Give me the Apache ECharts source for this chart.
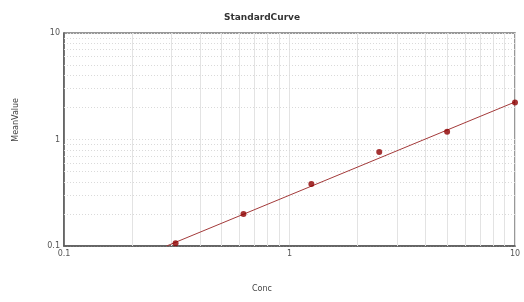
<!DOCTYPE html>
<html><head><meta charset="utf-8">
<script src="https://cdn.jsdelivr.net/npm/echarts@6/dist/echarts.min.js"></script>
<style>html,body{margin:0;padding:0;background:#fff}#c{width:524px;height:302px}</style>
</head><body><div id="c"></div>
<script>
var conc = [0.3125, 0.625, 1.25, 2.5, 5, 10];
var meanValue = [0.106, 0.20, 0.382, 0.764, 1.18, 2.22];
var fitLine = [[0.285, 0.1], [10, 2.25]];
var minorX = [0.2,0.3,0.4,0.5,0.6,0.7,0.8,0.9,2,3,4,5,6,7,8,9];
var minorY = [0.2,0.3,0.4,0.5,0.6,0.7,0.8,0.9,2,3,4,5,6,7,8,9];

var chart = echarts.init(document.getElementById('c'), null, {renderer:'canvas'});
var font = 'DejaVu Sans';
var vStyle = {color:'#e3e3e3', type:'solid', width:1};
var hStyle = {color:'#dadada', type:[1,2], width:1};
var mlV = minorX.map(function(v){return {xAxis:v};});
var mlH = minorY.map(function(v){return {yAxis:v};});
chart.setOption({
  animation:false,
  title:[
    {text:'StandardCurve', left:'center', top:8, textStyle:{fontFamily:font, fontSize:9, fontWeight:'bold', color:'#333'}},
    {text:'Conc', left:'center', top:280, textStyle:{fontFamily:font, fontSize:8, fontWeight:'normal', color:'#444'}}
  ],
  graphic:[{type:'text', left:12, top:98, rotation:Math.PI/2, style:{text:'MeanValue', font:'8px "DejaVu Sans"', fill:'#444'}}],
  grid:{left:64, right:9, top:33, bottom:56, show:true, borderColor:'#777', borderWidth:1.5},
  xAxis:{type:'log', logBase:10, min:0.1, max:10,
    axisLine:{lineStyle:{color:'#555', width:1.5}}, axisTick:{show:false},
    axisLabel:{fontFamily:font, fontSize:8, color:'#555', margin:4, formatter:function(v){return String(+v.toPrecision(3));}},
    splitLine:{show:true, lineStyle:vStyle}},
  yAxis:{type:'log', logBase:10, min:0.1, max:10,
    axisLine:{lineStyle:{color:'#555', width:1.5}}, axisTick:{show:false},
    axisLabel:{fontFamily:font, fontSize:8, color:'#555', margin:4, formatter:function(v){return String(+v.toPrecision(3));}},
    splitLine:{show:true, lineStyle:hStyle}},
  series:[
    {type:'line', data:fitLine, symbol:'none', lineStyle:{color:'#a33a3a', width:1}, z:3,
     markLine:{silent:true, symbol:'none', label:{show:false}, lineStyle:vStyle, data:mlV, z:1}},
    {type:'line', data:[], symbol:'none',
     markLine:{silent:true, symbol:'none', label:{show:false}, lineStyle:hStyle, data:mlH, z:1}},
    {type:'scatter', data:conc.map(function(x,i){return [x, meanValue[i]];}), symbol:'circle', symbolSize:6,
     itemStyle:{color:'#8e0000'}, z:4}
  ]
});
</script></body></html>
